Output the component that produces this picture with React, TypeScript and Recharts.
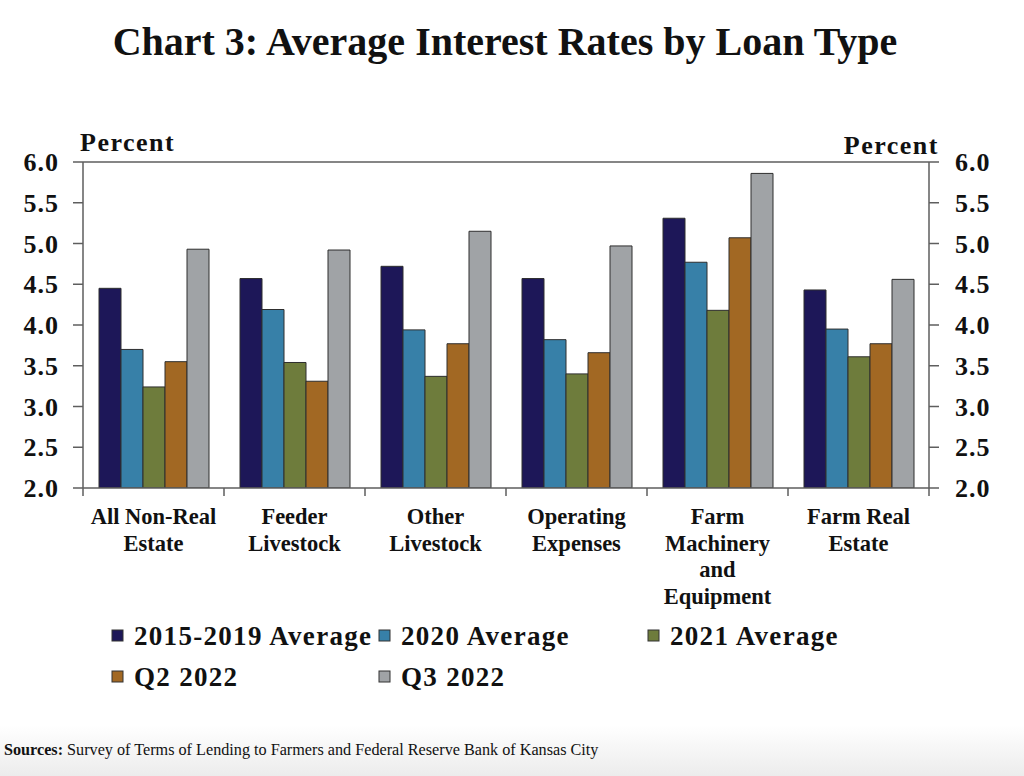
import { BarChart, Bar, XAxis, YAxis, ReferenceLine } from 'recharts'

// loan types, one label line per array entry
const categories = [
  'All Non-Real\nEstate',
  'Feeder\nLivestock',
  'Other\nLivestock',
  'Operating\nExpenses',
  'Farm\nMachinery\nand\nEquipment',
  'Farm Real\nEstate',
]

const avg2015to2019 = [4.45, 4.57, 4.72, 4.57, 5.31, 4.43]
const avg2020 = [3.7, 4.19, 3.94, 3.82, 4.77, 3.95]
const avg2021 = [3.24, 3.54, 3.37, 3.4, 4.18, 3.61]
const q2of2022 = [3.55, 3.31, 3.77, 3.66, 5.07, 3.77]
const q3of2022 = [4.93, 4.92, 5.15, 4.97, 5.86, 4.56]

const yTicks = [2.0, 2.5, 3.0, 3.5, 4.0, 4.5, 5.0, 5.5, 6.0]

const series = [
  { key: 'a1519', name: '2015-2019 Average', values: avg2015to2019, color: '#1d1758' },
  { key: 'a2020', name: '2020 Average', values: avg2020, color: '#3780a8' },
  { key: 'a2021', name: '2021 Average', values: avg2021, color: '#6e7c3c' },
  { key: 'q2', name: 'Q2 2022', values: q2of2022, color: '#a26823' },
  { key: 'q3', name: 'Q3 2022', values: q3of2022, color: '#a0a3a6' },
]

const data = categories.map((label, i) => {
  const row: Record<string, any> = { label }
  series.forEach((s) => (row[s.key] = s.values[i]))
  return row
})

const W = 1024
const H = 776
const MARGIN = { top: 162, right: 35, bottom: 168, left: 23 }
const Y_AXIS_W = 60
const X_AXIS_H = 120
const PLOT_LEFT = MARGIN.left + Y_AXIS_W
const PLOT_RIGHT = W - MARGIN.right - Y_AXIS_W
const PLOT_BOTTOM = H - MARGIN.bottom - X_AXIS_H
const BAND = (PLOT_RIGHT - PLOT_LEFT) / categories.length

const SERIF = '"Liberation Serif", "Times New Roman", serif'
const AXIS = '#5e5e5e'

const tickFont = { fontFamily: SERIF, fontWeight: 700, fontSize: 26, letterSpacing: 1, fill: '#111' }

// category label plus the divider tick on the band edges
function CategoryTick({ x, payload, index }: any) {
  const lines = String(payload.value).split('\n')
  const left = x - BAND / 2
  return (
    <g>
      <line x1={left} x2={left} y1={PLOT_BOTTOM} y2={PLOT_BOTTOM + 8} stroke={AXIS} strokeWidth={1.5} />
      {index === categories.length - 1 && (
        <line x1={left + BAND} x2={left + BAND} y1={PLOT_BOTTOM} y2={PLOT_BOTTOM + 8} stroke={AXIS} strokeWidth={1.5} />
      )}
      <text textAnchor="middle" fontFamily={SERIF} fontWeight={700} fontSize={22.5} fill="#111">
        {lines.map((ln, i) => (
          <tspan key={i} x={x} y={PLOT_BOTTOM + 36 + i * 26.5}>
            {ln}
          </tspan>
        ))}
      </text>
    </g>
  )
}

const legendCols = [112, 379, 648]
const legendRows = [645, 686]

export default function App() {
  return (
    <div
      style={{
        position: 'absolute',
        left: 0,
        top: 0,
        width: W,
        height: H,
        background: 'linear-gradient(to bottom, #ffffff 0px, #ffffff 725px, #ececec 776px)',
      }}
    >
      <BarChart width={W} height={H} data={data} margin={MARGIN} barGap={0} barSize={22}>
        <XAxis
          dataKey="label"
          height={X_AXIS_H}
          interval={0}
          tickLine={false}
          axisLine={{ stroke: AXIS, strokeWidth: 1.5 }}
          tick={<CategoryTick />}
        />
        <YAxis
          yAxisId="left"
          width={Y_AXIS_W}
          domain={[2, 6]}
          ticks={yTicks}
          interval={0}
          allowDataOverflow
          tickFormatter={(v: number) => v.toFixed(1)}
          tickSize={10}
          tickMargin={14}
          tick={tickFont}
          tickLine={{ stroke: AXIS, strokeWidth: 1.5 }}
          axisLine={{ stroke: AXIS, strokeWidth: 1.5 }}
        />
        <YAxis
          yAxisId="right"
          orientation="right"
          width={Y_AXIS_W}
          domain={[2, 6]}
          ticks={yTicks}
          interval={0}
          allowDataOverflow
          tickFormatter={(v: number) => v.toFixed(1)}
          tickSize={10}
          tickMargin={16}
          tick={tickFont}
          tickLine={{ stroke: AXIS, strokeWidth: 1.5 }}
          axisLine={{ stroke: AXIS, strokeWidth: 1.5 }}
        />
        {/* top frame line; on the right axis so that axis gets a domain of its own */}
        <ReferenceLine yAxisId="right" y={6} ifOverflow="extendDomain" stroke={AXIS} strokeWidth={1.5} />
        <ReferenceLine yAxisId="right" y={2} ifOverflow="extendDomain" stroke="none" />
        {series.map((s) => (
          <Bar
            key={s.key}
            yAxisId="left"
            dataKey={s.key}
            name={s.name}
            fill={s.color}
            stroke="#2e2e2e"
            strokeWidth={1}
            isAnimationActive={false}
          />
        ))}
      </BarChart>

      <svg width={W} height={H} style={{ position: 'absolute', left: 0, top: 0, pointerEvents: 'none' }}>
        <text x={505} y={55} textAnchor="middle" fontFamily={SERIF} fontWeight={700} fontSize={40} fill="#111">
          Chart 3: Average Interest Rates by Loan Type
        </text>
        <text x={80} y={151} fontFamily={SERIF} fontWeight={700} fontSize={26} letterSpacing={1.5} fill="#111">
          Percent
        </text>
        <text x={939} y={154} textAnchor="end" fontFamily={SERIF} fontWeight={700} fontSize={26} letterSpacing={1.5} fill="#111">
          Percent
        </text>

        {series.map((s, i) => {
          const x = legendCols[i % 3]
          const y = legendRows[Math.floor(i / 3)]
          return (
            <g key={s.key}>
              <rect x={x} y={y - 15} width={11} height={11} fill={s.color} stroke="#333" strokeWidth={1} />
              <text x={x + 22} y={y} fontFamily={SERIF} fontWeight={700} fontSize={27} letterSpacing={1.3} fill="#111">
                {s.name}
              </text>
            </g>
          )
        })}

        <text x={4} y={755} fontFamily={SERIF} fontSize={16.2} fill="#111">
          <tspan fontWeight={700}>Sources:</tspan> Survey of Terms of Lending to Farmers and Federal Reserve Bank of Kansas City
        </text>
      </svg>
    </div>
  )
}
